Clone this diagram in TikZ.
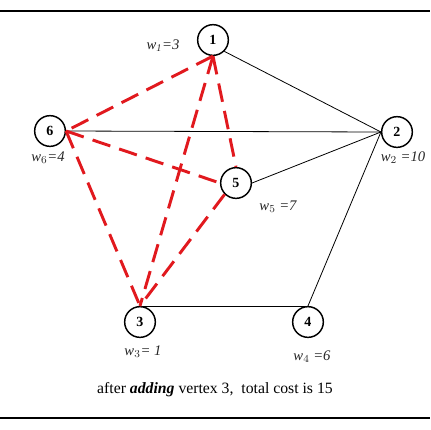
\documentclass[tikz,border=0pt]{standalone}
\usepackage{fontspec}
\setmainfont{Liberation Serif}
\usetikzlibrary{positioning}
\definecolor{dashred}{RGB}{225,25,30}

\begin{document}
\begin{tikzpicture}[x=0.75pt, y=-0.75pt,
  vtx/.style={circle, draw, line width=1.1pt, minimum size=23pt, inner sep=0pt, font=\fontsize{10.5}{12}\selectfont\bfseries},
  wlab/.style={font=\fontsize{11}{13}\selectfont\itshape, text=black!85},
  tree/.style={dashred, line width=2.2pt, dash pattern=on 14pt off 7pt},
  plain/.style={line width=0.6pt}]
\useasboundingbox (0,0) rectangle (430,430);
\draw[line width=2pt] (0,11) -- (430,11);
\draw[line width=2pt] (0,418) -- (430,418);
\node[vtx] (n1) at (213,40) {1};
\node[vtx] (n6) at (50,131) {6};
\node[vtx] (n2) at (397,132) {2};
\node[vtx] (n5) at (236,183) {5};
\node[vtx] (n3) at (140,322) {3};
\node[vtx] (n4) at (308,322) {4};
\draw[plain] (n1.south east) -- (n2.west);
\draw[plain] (n6.east) -- (n2.west);
\draw[plain] (n5.east) -- (n2.west);
\draw[plain] (n2.west) -- (n4.north);
\draw[plain] (n3.north) -- (n4.north);
\draw[tree] (n1.south) -- (n6.east);
\draw[tree] (n1.south) -- (n3.north);
\draw[tree] (n1.south) -- (n5.north);
\draw[tree] (n6.east) -- (n5.west);
\draw[tree] (n6.east) -- (n3.north);
\draw[tree] (n5.south west) -- (n3.north);
\node[wlab] (l1) at (163,46) {w$_{\mathit1}$=3};
\node[wlab] (l6) at (48,158) {w$_6$=4};
\node[wlab] (l2) at (403,158) {w$_2$ =10};
\node[wlab] (l5) at (278,207) {w$_5$ =7};
\node[wlab] (l3) at (143,352) {w$_3$= 1};
\node[wlab] (l4) at (312,357) {w$_4$ =6};
\node[font=\fontsize{11.8}{14}\selectfont] (cap) at (215,390) {after \textbf{\textit{adding}} vertex 3,~ total cost is 15};
\end{tikzpicture}
\end{document}
